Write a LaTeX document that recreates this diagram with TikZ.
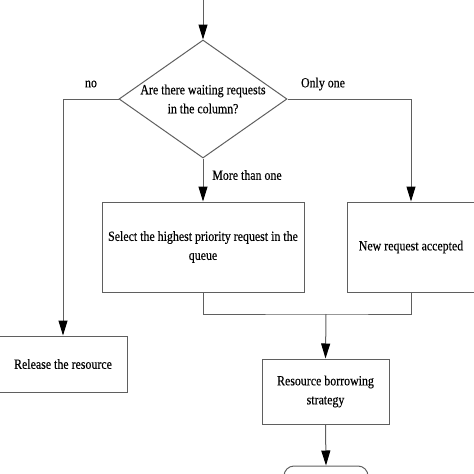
\documentclass[tikz,border=0pt]{standalone}
\usepackage{fontspec}
\setmainfont{Liberation Serif}[FakeStretch=0.85,FakeBold=0.3]
\usetikzlibrary{arrows.meta,shapes.geometric}
\definecolor{ln}{RGB}{95,95,95}
\tikzset{
  box/.style={draw=ln, line width=1pt, rectangle, inner sep=0pt, align=center, font=\fontsize{14}{19}\selectfont},
  dec/.style={draw=ln, line width=1pt, diamond, inner sep=0pt, aspect=1.42, align=center, font=\fontsize{14}{19}\selectfont},
  arr/.style={draw=ln, line width=1pt, -{Triangle[length=15pt,width=9pt,color=black]}},
  ln/.style={draw=ln, line width=1pt},
  lbl/.style={font=\fontsize{14}{19}\selectfont, inner sep=0pt}
}
\begin{document}
\begin{tikzpicture}[x=1pt,y=-1pt]
\useasboundingbox (0,0) rectangle (474,474);
\clip (0,0) rectangle (474,474);
\node[dec, minimum width=168pt, minimum height=118pt] (dia) at (203,99) {Are there waiting requests\\in the column?};
\coordinate (top) at (203,-5);
\node[box, minimum width=128pt, minimum height=56pt] (rel) at (63,364) {Release the resource};
\node[box, minimum width=202pt, minimum height=90pt] (sel) at (203,247) {Select the highest priority request in the\\queue};
\node[box, minimum width=128pt, minimum height=90pt] (new) at (411,247) {New request accepted};
\node[box, minimum width=127pt, minimum height=65pt] (res) at (325.5,391.5) {Resource borrowing\\strategy};
\node[box, rounded corners=10pt, minimum width=84pt, minimum height=30pt] (end) at (326,481) {};
\coordinate (j) at (326,314);
\draw[arr] (top) -- (dia.north);
\draw[arr] (dia.west) -| (rel.north);
\draw[arr] (dia.east) -| (new.north);
\draw[arr] (dia.south) -- (sel.north);
\draw[ln] (sel.south) |- (j) -| (new.south);
\draw[arr] (j) -- (res.north);
\draw[arr] (res.south) -- (end.north);
\node[lbl] (no) at (91,84) {no};
\node[lbl] (one) at (323,84) {Only one};
\node[lbl] (more) at (247,175) {More than one};
\end{tikzpicture}
\end{document}
